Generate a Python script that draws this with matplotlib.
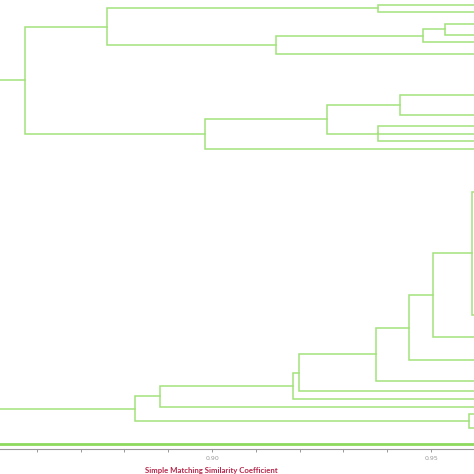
import matplotlib
matplotlib.use("Agg")
import matplotlib.pyplot as plt

# leaf vertical positions (top to bottom)
leaf_y = [5, 12, 24, 35, 42, 54, 95, 115, 126, 134, 141, 149,
          192, 315, 337, 360, 381, 391, 399, 407, 414, 428]
# links: (similarity, child_a, child_b); new node ids start at len(leaf_y)
link_sim = [0.9379, 0.9532, 0.9482, 0.9146, 0.8760, 0.9429, 0.9379, 0.9379,
            0.9263, 0.8984, 0.8573, 0.9594, 0.9505, 0.9450, 0.9374, 0.9199,
            0.9185, 0.8881, 0.9587, 0.8824]
link_a = [0, 2, 23, 24, 22, 6, 8, 28, 27, 30, 26, 12, 33, 34, 35, 36, 37, 38, 20, 39]
link_b = [1, 3, 4, 5, 25, 7, 10, 9, 29, 11, 31, 13, 14, 15, 16, 17, 18, 19, 21, 40]
root_nodes = [32, 41]
outlier_y = 444

xmin, xmax = 0.8516, 0.9598
color = "#a3e27a"

fig = plt.figure(figsize=(4.74, 4.74), dpi=100)
ax = fig.add_axes([0, 0.053, 1, 0.947])

n = len(leaf_y)
pos = {i: (xmax + 0.01, y) for i, y in enumerate(leaf_y)}
for k, (s, a, b) in enumerate(zip(link_sim, link_a, link_b)):
    xa, ya = pos[a]
    xb, yb = pos[b]
    ax.plot([xa, s, s, xb], [ya, ya, yb, yb], color=color, lw=1.1, solid_joinstyle="miter")
    pos[n + k] = (s, (ya + yb) / 2)
for r in root_nodes:
    x, y = pos[r]
    ax.plot([xmin - 0.01, x], [y, y], color=color, lw=1.1)
ax.plot([xmin - 0.01, xmax + 0.01], [outlier_y, outlier_y], color="#8ed95e", lw=2)

ax.set_xlim(xmin, xmax)
ax.set_ylim(449, 0)
ax.set_yticks([])
for sp in ["top", "left", "right"]:
    ax.spines[sp].set_visible(False)
ax.spines["bottom"].set_color("#999999")
ax.spines["bottom"].set_linewidth(0.8)
ax.set_xticks([0.90, 0.95])
ax.set_xticklabels(["0.90", "0.95"])
ax.set_xticks([0.86, 0.87, 0.88, 0.89, 0.91, 0.92, 0.93, 0.94], minor=True)
ax.tick_params(axis="x", which="both", length=2, width=0.6, color="#888888",
               labelsize=4.5, labelcolor="#999999", pad=3)
ax.set_xlabel("Simple Matching Similarity Coefficient", fontsize=5.6,
              fontweight="bold", color="#b5264a", family="Lato", labelpad=3)
ax.xaxis.set_label_coords(0.445, -0.04)
fig.savefig("out.png", dpi=100)
